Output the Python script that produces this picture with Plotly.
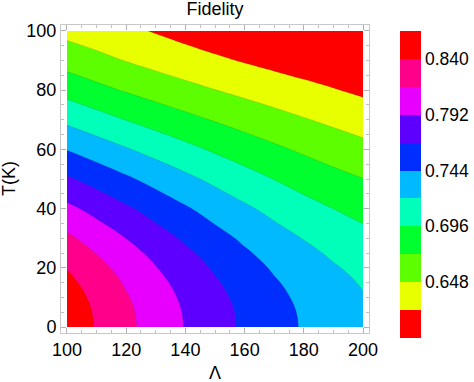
import plotly.graph_objects as go

# Axes values
lam = [100, 110, 120, 130, 140, 150, 160, 170, 180, 190, 200]
temp = [0, 5, 10, 15, 20, 25, 30, 40, 50, 60, 70, 80, 90, 100]

# Fidelity; one list per temperature row
fid_T0 = [0.8561, 0.8384, 0.8216, 0.8058, 0.7910, 0.7772, 0.7644, 0.7527, 0.7421, 0.7325, 0.7240]
fid_T5 = [0.8549, 0.8374, 0.8207, 0.8049, 0.7902, 0.7764, 0.7637, 0.7520, 0.7413, 0.7318, 0.7233]
fid_T10 = [0.8516, 0.8344, 0.8180, 0.8024, 0.7878, 0.7741, 0.7614, 0.7497, 0.7391, 0.7297, 0.7214]
fid_T15 = [0.8463, 0.8296, 0.8136, 0.7984, 0.7839, 0.7704, 0.7578, 0.7462, 0.7357, 0.7264, 0.7182]
fid_T20 = [0.8393, 0.8232, 0.8077, 0.7929, 0.7787, 0.7654, 0.7530, 0.7415, 0.7312, 0.7220, 0.7140]
fid_T25 = [0.8307, 0.8153, 0.8004, 0.7860, 0.7723, 0.7592, 0.7470, 0.7358, 0.7256, 0.7166, 0.7088]
fid_T30 = [0.8207, 0.8061, 0.7918, 0.7780, 0.7646, 0.7520, 0.7401, 0.7291, 0.7192, 0.7103, 0.7028]
fid_T40 = [0.7975, 0.7844, 0.7714, 0.7587, 0.7465, 0.7348, 0.7237, 0.7135, 0.7041, 0.6958, 0.6886]
fid_T50 = [0.7712, 0.7593, 0.7476, 0.7363, 0.7253, 0.7148, 0.7048, 0.6955, 0.6869, 0.6792, 0.6724]
fid_T60 = [0.7433, 0.7324, 0.7219, 0.7118, 0.7022, 0.6930, 0.6843, 0.6761, 0.6685, 0.6614, 0.6549]
fid_T70 = [0.7150, 0.7049, 0.6955, 0.6867, 0.6783, 0.6705, 0.6631, 0.6561, 0.6495, 0.6432, 0.6371]
fid_T80 = [0.6877, 0.6785, 0.6701, 0.6623, 0.6551, 0.6484, 0.6421, 0.6362, 0.6306, 0.6252, 0.6199]
fid_T90 = [0.6627, 0.6547, 0.6472, 0.6403, 0.6338, 0.6279, 0.6223, 0.6172, 0.6125, 0.6082, 0.6042]
fid_T100 = [0.6411, 0.6350, 0.6287, 0.6223, 0.6160, 0.6101, 0.6046, 0.5997, 0.5957, 0.5927, 0.5909]

# Contour levels and colour bar
level_start = 0.624
level_end = 0.840
level_step = 0.024
bar_min = 0.600
bar_max = 0.864
bar_ticks = [0.648, 0.696, 0.744, 0.792, 0.840]
bar_ticktext = ["0.648", "0.696", "0.744", "0.792", "0.840"]

band_colors = ["#FF0000", "#E8FF00", "#5DFF00", "#00FF2E", "#00FFB9", "#00B9FF",
               "#002EFF", "#5D00FF", "#E800FF", "#FF008B", "#FF0000"]

z = [fid_T0, fid_T5, fid_T10, fid_T15, fid_T20, fid_T25, fid_T30,
     fid_T40, fid_T50, fid_T60, fid_T70, fid_T80, fid_T90, fid_T100]

nb = len(band_colors)
contour_scale = [[i / (nb - 1), c] for i, c in enumerate(band_colors)]
bar_scale = []
for i, c in enumerate(band_colors):
    bar_scale.append([i / nb, c])
    bar_scale.append([(i + 1) / nb, c])

fig = go.Figure()
fig.add_trace(go.Contour(
    x=lam, y=temp, z=z,
    contours=dict(start=level_start, end=level_end, size=level_step,
                  coloring="fill", showlines=True),
    line=dict(width=0.6, color="rgba(80,80,80,0.3)", smoothing=1.3),
    colorscale=contour_scale, showscale=False, hoverinfo="skip",
))

# colour bar (full-width end bands like the reference)
W, H = 474, 382
ml, mr, mt, mb = 61, 105, 25, 49
pw = W - ml - mr
ph = H - mt - mb
fig.add_trace(go.Scatter(
    x=[None], y=[None], mode="markers", showlegend=False, hoverinfo="skip",
    marker=dict(color=[0.7], colorscale=bar_scale, cmin=bar_min, cmax=bar_max,
                showscale=True,
                colorbar=dict(thickness=21, thicknessmode="pixels",
                              len=306.5 / ph, lenmode="fraction",
                              x=(400 - ml) / pw, xanchor="left", xpad=0,
                              y=(mt + ph - 338) / ph, yanchor="bottom", ypad=0,
                              outlinewidth=0, ticks="",
                              tickvals=bar_ticks, ticktext=bar_ticktext,
                              tickfont=dict(family="Liberation Sans", size=17.5, color="black"))),
))

axis_common = dict(
    showline=True, mirror="ticks", linecolor="#c8c8c8", linewidth=1,
    ticks="inside", ticklen=5, tickwidth=1, tickcolor="#b0b0b0",
    minor=dict(ticks="inside", ticklen=3, tickcolor="#c0c0c0", dtick=5),
    showgrid=False, zeroline=False,
    tickfont=dict(family="Liberation Sans", size=18, color="black"),
)
fig.update_xaxes(range=[98, 202], tickvals=[100, 120, 140, 160, 180, 200], **axis_common)
fig.update_yaxes(range=[-2, 102], tickvals=[0, 20, 40, 60, 80, 100], **axis_common)

fig.update_layout(
    width=W, height=H,
    margin=dict(l=ml, r=mr, t=mt, b=mb, autoexpand=False),
    plot_bgcolor="white", paper_bgcolor="white",
    title=dict(text="Fidelity", x=(ml + pw / 2) / W, xanchor="center",
               y=1 - 9 / H, yanchor="middle", yref="container",
               font=dict(family="Liberation Sans", size=18, color="black")),
    annotations=[
        dict(text="T(K)", textangle=-90, xref="paper", yref="paper",
             x=(9 - ml) / pw, y=(mt + ph - 179) / ph, xanchor="center", yanchor="middle",
             showarrow=False, font=dict(family="Liberation Sans", size=18, color="black")),
        dict(text="Λ", xref="paper", yref="paper",
             x=0.5, y=(mt + ph - 373) / ph, xanchor="center", yanchor="middle",
             showarrow=False, font=dict(family="Liberation Sans", size=18, color="black")),
    ],
)

fig.write_html("out.html", config={"displayModeBar": False},
               post_script="document.body.style.margin='0px';document.body.style.overflow='hidden';")
